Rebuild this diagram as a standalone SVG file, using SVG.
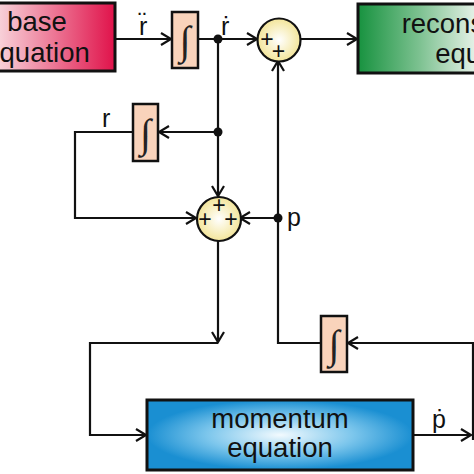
<svg xmlns="http://www.w3.org/2000/svg" width="474" height="474" viewBox="0 0 474 474">
<style>
.ln{fill:none;stroke:#111;stroke-width:2.2}
.box{stroke:#111;stroke-width:3}
.intg{fill:#f9d3bb;stroke:#111;stroke-width:2.5}
.sum{fill:url(#gSum);stroke:#111;stroke-width:2.2}
.t{font-family:"Liberation Sans",Arial,sans-serif;fill:#111}
.big{font-size:27.5px;text-anchor:middle}
.lab{font-size:25px}
.pl{font-size:23px;text-anchor:middle}
.int{font-family:"Liberation Serif",serif;font-size:40px;text-anchor:middle;fill:#222}
</style>
<defs>
<marker id="ar" markerUnits="userSpaceOnUse" markerWidth="14" markerHeight="14" refX="11" refY="7" orient="auto">
<path d="M1,1 L11,7 L1,13" fill="none" stroke="#111" stroke-width="2.2"/>
</marker>
<linearGradient id="gRed" gradientUnits="userSpaceOnUse" x1="-41" y1="0" x2="115" y2="0">
<stop offset="0" stop-color="#ffffff"/>
<stop offset="0.25" stop-color="#f8d3da"/>
<stop offset="1" stop-color="#e0124a"/>
</linearGradient>
<linearGradient id="gGreen" gradientUnits="userSpaceOnUse" x1="358" y1="0" x2="480" y2="0">
<stop offset="0" stop-color="#17923f"/>
<stop offset="0.5" stop-color="#7cc190"/>
<stop offset="1" stop-color="#eef5ee"/>
</linearGradient>
<radialGradient id="gBlue" cx="0.5" cy="0.5" r="0.5">
<stop offset="0" stop-color="#f2fafe"/>
<stop offset="0.55" stop-color="#7cc6ec"/>
<stop offset="1" stop-color="#1a8fd2"/>
</radialGradient>
<radialGradient id="gSum" cx="0.5" cy="0.5" r="0.5">
<stop offset="0" stop-color="#ffffff"/>
<stop offset="1" stop-color="#f3e59a"/>
</radialGradient>
</defs>

<g id="connectors">
<line class="ln" x1="116" y1="39" x2="171" y2="39" marker-end="url(#ar)"/>
<line class="ln" x1="199" y1="39" x2="257" y2="39" marker-end="url(#ar)"/>
<line class="ln" x1="300" y1="39" x2="357" y2="39" marker-end="url(#ar)"/>
<line class="ln" x1="218" y1="39" x2="218" y2="196" marker-end="url(#ar)"/>
<line class="ln" x1="218" y1="132" x2="159" y2="132" marker-end="url(#ar)"/>
<path class="ln" d="M133,132 H75 V218 H196" marker-end="url(#ar)"/>
<line class="ln" x1="278" y1="218" x2="240" y2="218" marker-end="url(#ar)"/>
<path class="ln" d="M321,343 H278 V61" marker-end="url(#ar)"/>
<line class="ln" x1="218" y1="240" x2="218" y2="342" marker-end="url(#ar)"/>
<path class="ln" d="M218,343 H90 V435 H146" marker-end="url(#ar)"/>
<line class="ln" x1="414" y1="435" x2="471" y2="435" marker-end="url(#ar)"/>
<path class="ln" d="M473,440 V343 H348" marker-end="url(#ar)" stroke-width="2.5"/>
<circle cx="218" cy="39" r="4.5" fill="#111"/>
<circle cx="218" cy="132" r="4.5" fill="#111"/>
<circle cx="278" cy="218" r="4.5" fill="#111"/>
</g>

<g id="base-equation">
<rect class="box" x="-41" y="3" width="156" height="68" fill="url(#gRed)"/>
<text class="t big" x="37" y="31">base</text>
<text class="t big" x="37" y="62">equation</text>
</g>

<g id="reconstruction-equation">
<rect class="box" x="358" y="4" width="260" height="69" fill="url(#gGreen)"/>
<text class="t big" x="488" y="33">reconstruction</text>
<text class="t big" x="488" y="63">equation</text>
</g>

<g id="momentum-equation">
<rect class="box" x="147" y="400" width="266" height="70" fill="url(#gBlue)"/>
<text class="t big" x="280" y="428">momentum</text>
<text class="t big" x="280" y="457">equation</text>
</g>

<g id="integrator-1">
<rect class="intg" x="172" y="12" width="26" height="56"/>
<text class="int" x="185" y="54">∫</text>
</g>
<g id="integrator-2">
<rect class="intg" x="133" y="104" width="25" height="57"/>
<text class="int" x="145.5" y="147">∫</text>
</g>
<g id="integrator-3">
<rect class="intg" x="321" y="316" width="26" height="56"/>
<text class="int" x="334" y="358">∫</text>
</g>

<g id="sum-1">
<circle class="sum" cx="279" cy="40" r="21.5"/>
<text class="t pl" x="267" y="47">+</text>
<text class="t pl" x="278.5" y="59">+</text>
</g>
<g id="sum-2">
<circle class="sum" cx="219" cy="219" r="22"/>
<text class="t pl" x="219" y="213">+</text>
<text class="t pl" x="205" y="227">+</text>
<text class="t pl" x="231" y="227">+</text>
</g>

<g id="labels">
<text class="t lab" x="139" y="35">r̈</text>
<text class="t lab" x="221" y="35">ṙ</text>
<text class="t lab" x="102" y="127">r</text>
<text class="t lab" x="287" y="226">p</text>
<text class="t lab" x="432" y="428">ṗ</text>
</g>
</svg>
